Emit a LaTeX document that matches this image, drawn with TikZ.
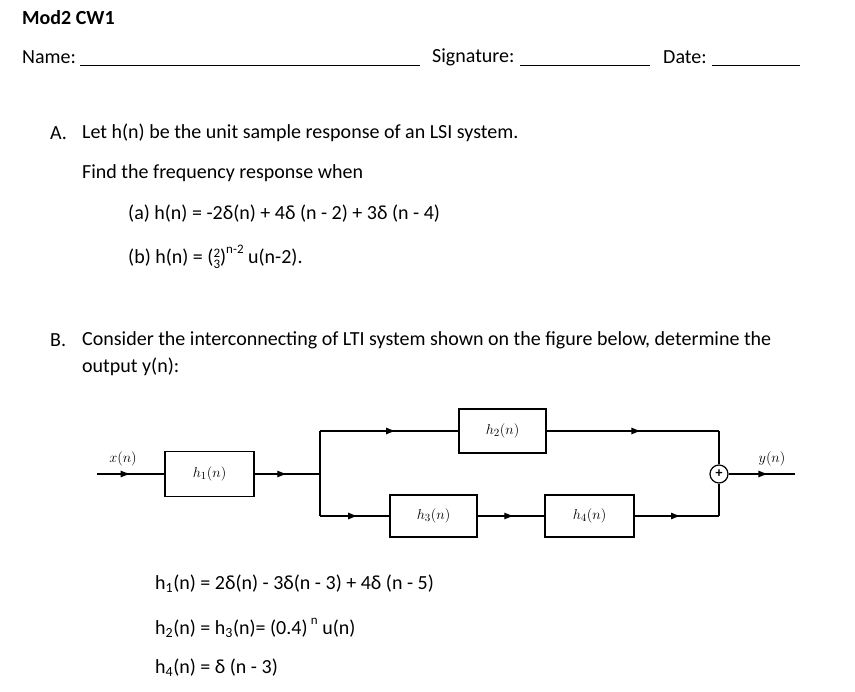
\documentclass[tikz,border=0pt]{standalone}
\usepackage{fontspec}
\setmainfont{Carlito}
\newfontfamily\serif{Liberation Serif}
\usetikzlibrary{decorations.markings,arrows.meta}
\begin{document}
\begin{tikzpicture}[x=1pt,y=-1pt,
  txt/.style={anchor=west,inner sep=0pt,font=\fontsize{20}{23}\selectfont},
  blk/.style={draw,line width=1.2pt,font=\serif\itshape\fontsize{15}{16}\selectfont},
  lbl/.style={font=\serif\itshape\fontsize{15}{16}\selectfont,inner sep=1pt},
  wire/.style={line width=1.2pt},
  mid/.style={postaction={decorate},decoration={markings,mark=at position #1 with {\arrow{Latex[length=10pt,width=7pt]}}}}]
\useasboundingbox[fill=white] (0,0) rectangle (855,692);
\node[txt,font=\bfseries\fontsize{20}{23}\selectfont] (t) at (22,18) {Mod2 CW1};
\node[txt] (nm) at (22,57) {Name:};
\draw (80,65) -- (420,65);
\node[txt] (sg) at (432,57) {Signature:};
\draw (520,65) -- (650,65);
\node[txt] (dt) at (663,57) {Date:};
\draw (712,65) -- (800,65);
\node[txt] (A) at (50,133) {A.};
\node[txt] (A1) at (82,133) {Let h(n) be the unit sample response of an LSI system.};
\node[txt] (A2) at (82,173) {Find the frequency response when};
\node[txt] (Aa) at (128,214) {(a) h(n) = -2δ(n) + 4δ (n - 2) + 3δ (n - 4)};
\node[txt] (Ab) at (128,257) {(b) h(n) = (\raisebox{-0.6ex}{\fontsize{13}{10}\selectfont\shortstack{2\\3}})\raisebox{1ex}{\fontsize{13}{13}\selectfont n-2} u(n-2).};
\node[txt] (B) at (50,340) {B.};
\node[txt] (B1) at (82,340) {Consider the interconnecting of LTI system shown on the figure below, determine the};
\node[txt] (B2) at (82,367) {output y(n):};
% diagram
\coordinate (in) at (97,474);
\node[blk,minimum width=89,minimum height=45] (h1) at (209.5,474) {$h_1(n)$};
\coordinate (j) at (320,474);
\coordinate (jt) at (320,431);
\coordinate (jb) at (320,516);
\node[blk,minimum width=87,minimum height=44] (h2) at (502.5,431) {$h_2(n)$};
\node[blk,minimum width=87,minimum height=42] (h3) at (433.5,516) {$h_3(n)$};
\node[blk,minimum width=89,minimum height=42] (h4) at (589.5,516) {$h_4(n)$};
\node[draw,circle,line width=1.2pt,minimum size=18,inner sep=0pt,font=\bfseries\fontsize{14}{14}\selectfont] (s) at (719,474) {+};
\coordinate (rt) at (719,431);
\coordinate (rb) at (719,516);
\coordinate (out) at (795,474);
\draw[wire,mid=0.5] (in) -- (h1.west);
\draw[wire,mid=0.5] (h1.east) -- (j);
\draw[wire] (jt) -- (jb);
\draw[wire,mid=0.55] (jt) -- (h2.west);
\draw[wire,mid=0.55] (h2.east) -- (rt);
\draw[wire] (rt) -- (s.north);
\draw[wire,mid=0.55] (jb) -- (h3.west);
\draw[wire,mid=0.55] (h3.east) -- (h4.west);
\draw[wire,mid=0.55] (h4.east) -- (rb);
\draw[wire] (rb) -- (s.south);
\draw[wire,mid=0.6] (s.east) -- (out);
\node[lbl] (xl) at (123,459) {$x(n)$};
\node[lbl] (yl) at (772,459) {$y(n)$};
\node[txt] (f1) at (155,584) {h\textsubscript{1}(n) = 2δ(n) - 3δ(n - 3) + 4δ (n - 5)};
\node[txt] (f2) at (155,628) {h\textsubscript{2}(n) = h\textsubscript{3}(n)= (0.4)\,\raisebox{1ex}{\fontsize{13}{13}\selectfont n} u(n)};
\node[txt] (f3) at (155,668) {h\textsubscript{4}(n) = δ (n - 3)};
\end{tikzpicture}
\end{document}
